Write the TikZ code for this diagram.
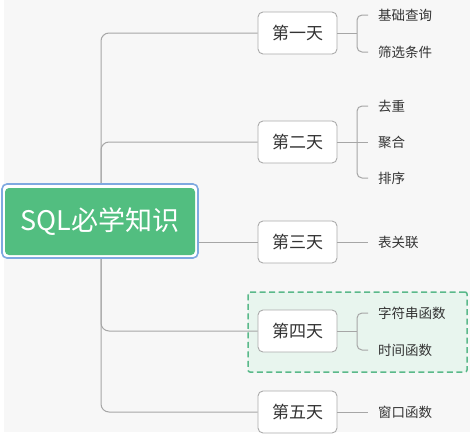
\documentclass[tikz,border=0pt]{standalone}
\usepackage{fontspec}
\setmainfont{Noto Sans CJK SC}
\definecolor{bg}{HTML}{F7F7F7}
\definecolor{rootgreen}{HTML}{52BE80}
\definecolor{rootblue}{HTML}{7FA9E0}
\definecolor{linegray}{HTML}{A6A6A6}
\definecolor{boxgray}{HTML}{ABABAB}
\definecolor{grpfill}{HTML}{E8F5EE}
\definecolor{grpline}{HTML}{5AB98A}
\definecolor{txt}{HTML}{333333}
\begin{document}
\begin{tikzpicture}[x=1pt,y=-1pt,
  conn/.style={draw=linegray,line width=1pt},
  daybox/.style={draw=boxgray,fill=white,line width=0.9pt,rounded corners=5pt,
    minimum width=79pt,minimum height=42pt,inner sep=0pt,
    font=\fontsize{17}{20}\selectfont,text=txt},
  leaf/.style={anchor=west,inner xsep=0pt,inner ysep=1pt,
    font=\fontsize{13.5}{16}\selectfont,text=txt},
  grpbox/.style={draw=grpline,fill=grpfill,line width=1.5pt,dash pattern=on 6pt off 3.5pt,
    rounded corners=2pt,minimum width=219pt,minimum height=80pt,inner sep=0pt}
]
\useasboundingbox (0,0) rectangle (474,437);
\fill[white] (0,0) rectangle (474,437);
\fill[bg] (4,0) rectangle (470,432);

% group box
\node[grpbox] (grp) at (357.5,332) {};

% day nodes
\node[daybox] (d1) at (297.5,33) {第一天};
\node[daybox] (d2) at (297.5,142) {第二天};
\node[daybox] (d3) at (297.5,242) {第三天};
\node[daybox] (d4) at (297.5,331) {第四天};
\node[daybox] (d5) at (297.5,412) {第五天};

% leaves
\node[leaf] (l11) at (378,15) {基础查询};
\node[leaf] (l12) at (378,52) {筛选条件};
\node[leaf] (l21) at (378,106) {去重};
\node[leaf] (l22) at (378,142) {聚合};
\node[leaf] (l23) at (378,178) {排序};
\node[leaf] (l31) at (378,242) {表关联};
\node[leaf] (l41) at (378,313) {字符串函数};
\node[leaf] (l42) at (378,350) {时间函数};
\node[leaf] (l51) at (378,412) {窗口函数};

% trunk connectors
\coordinate (tr) at (101,221);
\draw[conn,rounded corners=8pt] (tr) |- (d1.west);
\draw[conn,rounded corners=8pt] (tr) |- (d2.west);
\draw[conn,rounded corners=8pt] (tr) |- (d4.west);
\draw[conn,rounded corners=8pt] (tr) |- (d5.west);

% root
\node[draw=rootblue,fill=white,line width=1.6pt,rounded corners=5pt,
  minimum width=196pt,minimum height=74pt,inner sep=0pt] (rootframe) at (100,221) {};
\node[fill=rootgreen,rounded corners=4pt,minimum width=190pt,minimum height=67pt,
  inner sep=0pt,text=white,font=\fontsize{27}{32}\selectfont] (root) at (100,221.5) {SQL必学知识};
\draw[conn] (rootframe.east |- d3.west) -- (d3.west);

% leaf connectors
\draw[conn] (d1.east) -- ([xshift=-21pt]l11.west |- d1.east);
\draw[conn,rounded corners=5pt] ([xshift=-10pt]l11.west) -| ([xshift=-21pt]l12.west) -- ([xshift=-10pt]l12.west);

\draw[conn] (d2.east) -- ([xshift=-10pt]l22.west);
\draw[conn,rounded corners=5pt] ([xshift=-10pt]l21.west) -| ([xshift=-21pt]l23.west) -- ([xshift=-10pt]l23.west);

\draw[conn] (d3.east) -- ([xshift=-10pt]l31.west);

\draw[conn] (d4.east) -- ([xshift=-21pt]l41.west |- d4.east);
\draw[conn,rounded corners=5pt] ([xshift=-10pt]l41.west) -| ([xshift=-21pt]l42.west) -- ([xshift=-10pt]l42.west);

\draw[conn] (d5.east) -- ([xshift=-10pt]l51.west);
\end{tikzpicture}
\end{document}
